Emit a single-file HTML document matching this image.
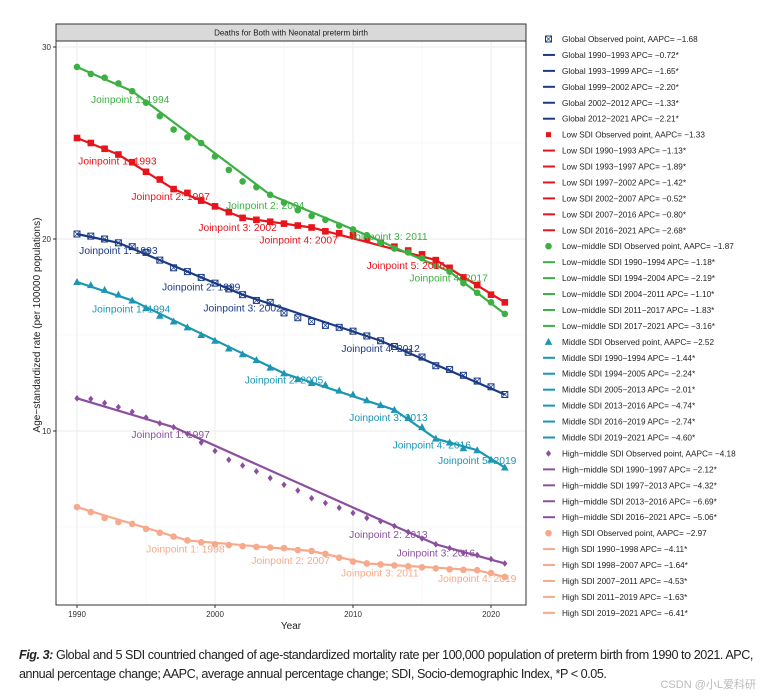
<!DOCTYPE html>
<html><head><meta charset="utf-8">
<style>
body{margin:0;background:#fff;width:764px;height:696px;overflow:hidden;font-family:"Liberation Sans",sans-serif}
#cap{position:absolute;left:19px;top:646px;width:745px;font-family:"Liberation Sans",sans-serif;font-size:12.6px;line-height:19px;color:#222;letter-spacing:-0.45px;white-space:nowrap}
#wm{position:absolute;right:8px;top:676px;font-size:11px;color:#bbb;font-family:"Liberation Sans","Noto Sans CJK SC",sans-serif}
</style></head><body>
<svg id="chart" width="764" height="640" style="position:absolute;left:0;top:0" xmlns="http://www.w3.org/2000/svg"></svg>
<div id="cap"><b><i>Fig. 3:</i></b> Global and 5 SDI countried changed of age-standardized mortality rate per 100,000 population of preterm birth from 1990 to 2021. APC,<br>annual percentage change; AAPC, average annual percentage change; SDI, Socio-demographic Index, *P &lt; 0.05.</div>
<div id="wm">CSDN @小L爱科研</div>
<script>
const years=[1990,1991,1992,1993,1994,1995,1996,1997,1998,1999,2000,2001,2002,2003,2004,2005,2006,2007,2008,2009,2010,2011,2012,2013,2014,2015,2016,2017,2018,2019,2020,2021];
const globalVals=[20.26,20.15,20.0,19.8,19.6,19.3,18.9,18.5,18.3,18.0,17.7,17.4,17.1,16.8,16.7,16.15,15.9,15.7,15.5,15.4,15.2,14.95,14.7,14.4,14.1,13.85,13.4,13.2,12.9,12.6,12.3,11.9];
const lowVals=[25.26,25.0,24.7,24.4,24.0,23.5,23.1,22.6,22.4,22.0,21.7,21.4,21.1,21.0,20.9,20.8,20.7,20.6,20.4,20.3,20.2,20.0,19.8,19.6,19.4,19.2,18.9,18.5,18.0,17.6,17.1,16.7];
const lowMidVals=[28.96,28.6,28.4,28.1,27.7,27.1,26.4,25.7,25.3,25.0,24.3,23.6,23.0,22.7,22.3,21.9,21.5,21.2,21.0,20.7,20.5,20.2,19.8,19.5,19.3,19.0,18.6,18.3,17.7,17.2,16.7,16.1];
const midVals=[17.76,17.6,17.35,17.1,16.8,16.4,16.0,15.7,15.4,15.0,14.7,14.3,14.0,13.7,13.3,13.0,12.7,12.5,12.4,12.1,11.9,11.6,11.35,11.1,10.7,10.2,9.6,9.4,9.1,9.0,8.5,8.1];
const highMidVals=[11.7,11.67,11.46,11.25,11.0,10.7,10.4,10.2,9.85,9.4,8.96,8.5,8.2,7.9,7.55,7.2,6.9,6.5,6.25,6.0,5.73,5.47,5.3,5.05,4.74,4.4,4.1,3.9,3.65,3.54,3.33,3.1];
const highVals=[6.04,5.78,5.47,5.26,5.16,4.9,4.7,4.5,4.3,4.2,4.1,4.06,4.0,3.96,3.93,3.9,3.8,3.75,3.6,3.4,3.2,3.1,3.05,3.0,2.95,2.9,2.85,2.8,2.77,2.75,2.6,2.4];
const globalJP=[1993,1999,2002,2012];
const lowJP=[1993,1997,2002,2007,2016];
const lowMidJP=[1994,2004,2011,2017];
const midJP=[1994,2005,2013,2016,2019];
const highMidJP=[1997,2013,2016];
const highJP=[1998,2007,2011,2019];
const xTicks=[1990,2000,2010,2020];
const yTicks=[10,20,30];
const legendLabels=["Global Observed point, AAPC= −1.68","Global 1990−1993 APC= −0.72*","Global 1993−1999 APC= −1.65*","Global 1999−2002 APC= −2.20*","Global 2002−2012 APC= −1.33*","Global 2012−2021 APC= −2.21*",
"Low SDI Observed point, AAPC= −1.33","Low SDI 1990−1993 APC= −1.13*","Low SDI 1993−1997 APC= −1.89*","Low SDI 1997−2002 APC= −1.42*","Low SDI 2002−2007 APC= −0.52*","Low SDI 2007−2016 APC= −0.80*","Low SDI 2016−2021 APC= −2.68*",
"Low−middle SDI Observed point, AAPC= −1.87","Low−middle SDI 1990−1994 APC= −1.18*","Low−middle SDI 1994−2004 APC= −2.19*","Low−middle SDI 2004−2011 APC= −1.10*","Low−middle SDI 2011−2017 APC= −1.83*","Low−middle SDI 2017−2021 APC= −3.16*",
"Middle SDI Observed point, AAPC= −2.52","Middle SDI 1990−1994 APC= −1.44*","Middle SDI 1994−2005 APC= −2.24*","Middle SDI 2005−2013 APC= −2.01*","Middle SDI 2013−2016 APC= −4.74*","Middle SDI 2016−2019 APC= −2.74*","Middle SDI 2019−2021 APC= −4.60*",
"High−middle SDI Observed point, AAPC= −4.18","High−middle SDI 1990−1997 APC= −2.12*","High−middle SDI 1997−2013 APC= −4.32*","High−middle SDI 2013−2016 APC= −6.69*","High−middle SDI 2016−2021 APC= −5.06*",
"High SDI Observed point, AAPC= −2.97","High SDI 1990−1998 APC= −4.11*","High SDI 1998−2007 APC= −1.64*","High SDI 2007−2011 APC= −4.53*","High SDI 2011−2019 APC= −1.63*","High SDI 2019−2021 APC= −6.41*"];

const NS="http://www.w3.org/2000/svg";
const svg=document.getElementById('chart');
const X0=56,X1=526,Y0=41,Y1=605;
const xS=y=>77+(y-1990)*(491-77)/30;
const yS=v=>47+(30-v)*19.2;
function mk(t,a,p){const e=document.createElementNS(NS,t);for(const k in a)e.setAttribute(k,a[k]);(p||svg).appendChild(e);return e;}

const bg=mk('rect',{x:X0,y:Y0,width:X1-X0,height:Y1-Y0,fill:'#fff'});


[5,15,25].forEach(v=>mk('line',{x1:X0,x2:X1,y1:yS(v),y2:yS(v),stroke:'#f2f2f2','stroke-width':0.6}));
[1995,2005,2015].forEach(v=>mk('line',{y1:Y0,y2:Y1,x1:xS(v),x2:xS(v),stroke:'#f2f2f2','stroke-width':0.6}));
yTicks.forEach(v=>{mk('line',{x1:X0,x2:X1,y1:yS(v),y2:yS(v),stroke:'#ebebeb','stroke-width':1});
 mk('line',{x1:X0-3,x2:X0,y1:yS(v),y2:yS(v),stroke:'#333'});
 const t=mk('text',{x:X0-5,y:yS(v)+3,'text-anchor':'end','font-size':8,fill:'#333'});t.textContent=v;
 
 });
xTicks.forEach(v=>{mk('line',{y1:Y0,y2:Y1,x1:xS(v),x2:xS(v),stroke:'#ebebeb','stroke-width':1});
 mk('line',{y1:Y1,y2:Y1+3,x1:xS(v),x2:xS(v),stroke:'#333'});
 const t=mk('text',{x:xS(v),y:Y1+12,'text-anchor':'middle','font-size':8,fill:'#333'});t.textContent=v;
 
 });
mk('rect',{x:X0,y:Y0,width:X1-X0,height:Y1-Y0,fill:'none',stroke:'#333','stroke-width':1});
const strip=mk('rect',{x:X0,y:24,width:X1-X0,height:17,fill:'#d9d9d9',stroke:'#333','stroke-width':1});


const st=mk('text',{x:(X0+X1)/2,y:35.5,'text-anchor':'middle','font-size':8,fill:'#1a1a1a'});st.textContent='Deaths for Both with Neonatal preterm birth';


const xt=mk('text',{x:291,y:629,'text-anchor':'middle','font-size':10,fill:'#222'});xt.textContent='Year';


const yt=mk('text',{x:0,y:0,'text-anchor':'middle','font-size':10,fill:'#222',transform:'translate(40,325) rotate(-90)'});yt.textContent='Age−standardized rate (per 100000 populations)';



const series=[
 {name:'global',vals:globalVals,jp:globalJP,col:'#1b3a86',shape:'sqx'},
 {name:'low-sdi',vals:lowVals,jp:lowJP,col:'#e8141b',shape:'sq'},
 {name:'low-middle-sdi',vals:lowMidVals,jp:lowMidJP,col:'#3cb043',shape:'circ'},
 {name:'middle-sdi',vals:midVals,jp:midJP,col:'#1b96b3',shape:'tri'},
 {name:'high-middle-sdi',vals:highMidVals,jp:highMidJP,col:'#8b4f9e',shape:'dia'},
 {name:'high-sdi',vals:highVals,jp:highJP,col:'#f7a98b',shape:'circ'}];
const labOff={global:[[0,11],[0,13],[0,17],[0,11]],'low-sdi':[[-1,10],[-3,11],[-5,13],[-13,16],[-30,9]],'low-middle-sdi':[[-2,12],[-5,14],[22,5],[-1,10]],'middle-sdi':[[-1,12],[0,10],[-6,11],[-4,10],[0,14]],'high-middle-sdi':[[-3,11],[-6,12],[0,12]],'high-sdi':[[-2,12],[-21,13],[13,13],[0,12]]};

function marker(s,x,y,g){
 let e;
 if(s.shape==='sq')e=mk('rect',{x:x-3.3,y:y-3.3,width:6.6,height:6.6,fill:s.col},g);
 else if(s.shape==='sqx'){e=mk('rect',{x:x-3,y:y-3,width:6,height:6,fill:'none',stroke:s.col,'stroke-width':1},g);mk('path',{d:`M${x-3} ${y-3}L${x+3} ${y+3}M${x+3} ${y-3}L${x-3} ${y+3}`,stroke:s.col,'stroke-width':0.7},g);}
 else if(s.shape==='circ')e=mk('circle',{cx:x,cy:y,r:3.3,fill:s.col},g);
 else if(s.shape==='tri')e=mk('path',{d:`M${x} ${y-4}L${x+3.8} ${y+3}L${x-3.8} ${y+3}Z`,fill:s.col},g);
 else e=mk('path',{d:`M${x} ${y-3.3}L${x+2.6} ${y}L${x} ${y+3.3}L${x-2.6} ${y}Z`,fill:s.col},g);
 return e;
}
series.forEach(s=>{
 const g=mk('g',{});
 
 
 const bp=[1990,...s.jp,2021];
 const pts=bp.map(y=>xS(y)+','+yS(s.vals[years.indexOf(y)])).join(' ');
 const ln=mk('polyline',{points:pts,fill:'none',stroke:s.col,'stroke-width':2.2,'stroke-linejoin':'round'},g);
 
 
 years.forEach((y,i)=>{const m=marker(s,xS(y),yS(s.vals[i]),g);
  
  });
});
series.forEach(s=>{
 s.jp.forEach((y,i)=>{const o=labOff[s.name][i];
  const t=mk('text',{x:xS(y)+o[0],y:yS(s.vals[years.indexOf(y)])+o[1],'text-anchor':'middle','font-size':10.3,fill:s.col});
  t.textContent='Joinpoint '+(i+1)+': '+y;
  
  });
});
const counts=[6,7,6,7,5,6];
let row=0;
series.forEach((s,si)=>{
 for(let k=0;k<counts[si];k++){
  const y=39+row*15.94;
  const g=mk('g',{});
  
  
  if(k===0){if(s.shape==='sq')mk('rect',{x:546,y:y-2.5,width:5,height:5,fill:s.col},g);else marker(s,548.5,y,g);}
  else mk('line',{x1:543,x2:555,y1:y,y2:y,stroke:s.col,'stroke-width':2},g);
  const t=mk('text',{x:562,y:y+3,'font-size':8.2,fill:'#222'},g);
  t.textContent=legendLabels[row];
  row++;
 }
});
</script>
</body></html>
